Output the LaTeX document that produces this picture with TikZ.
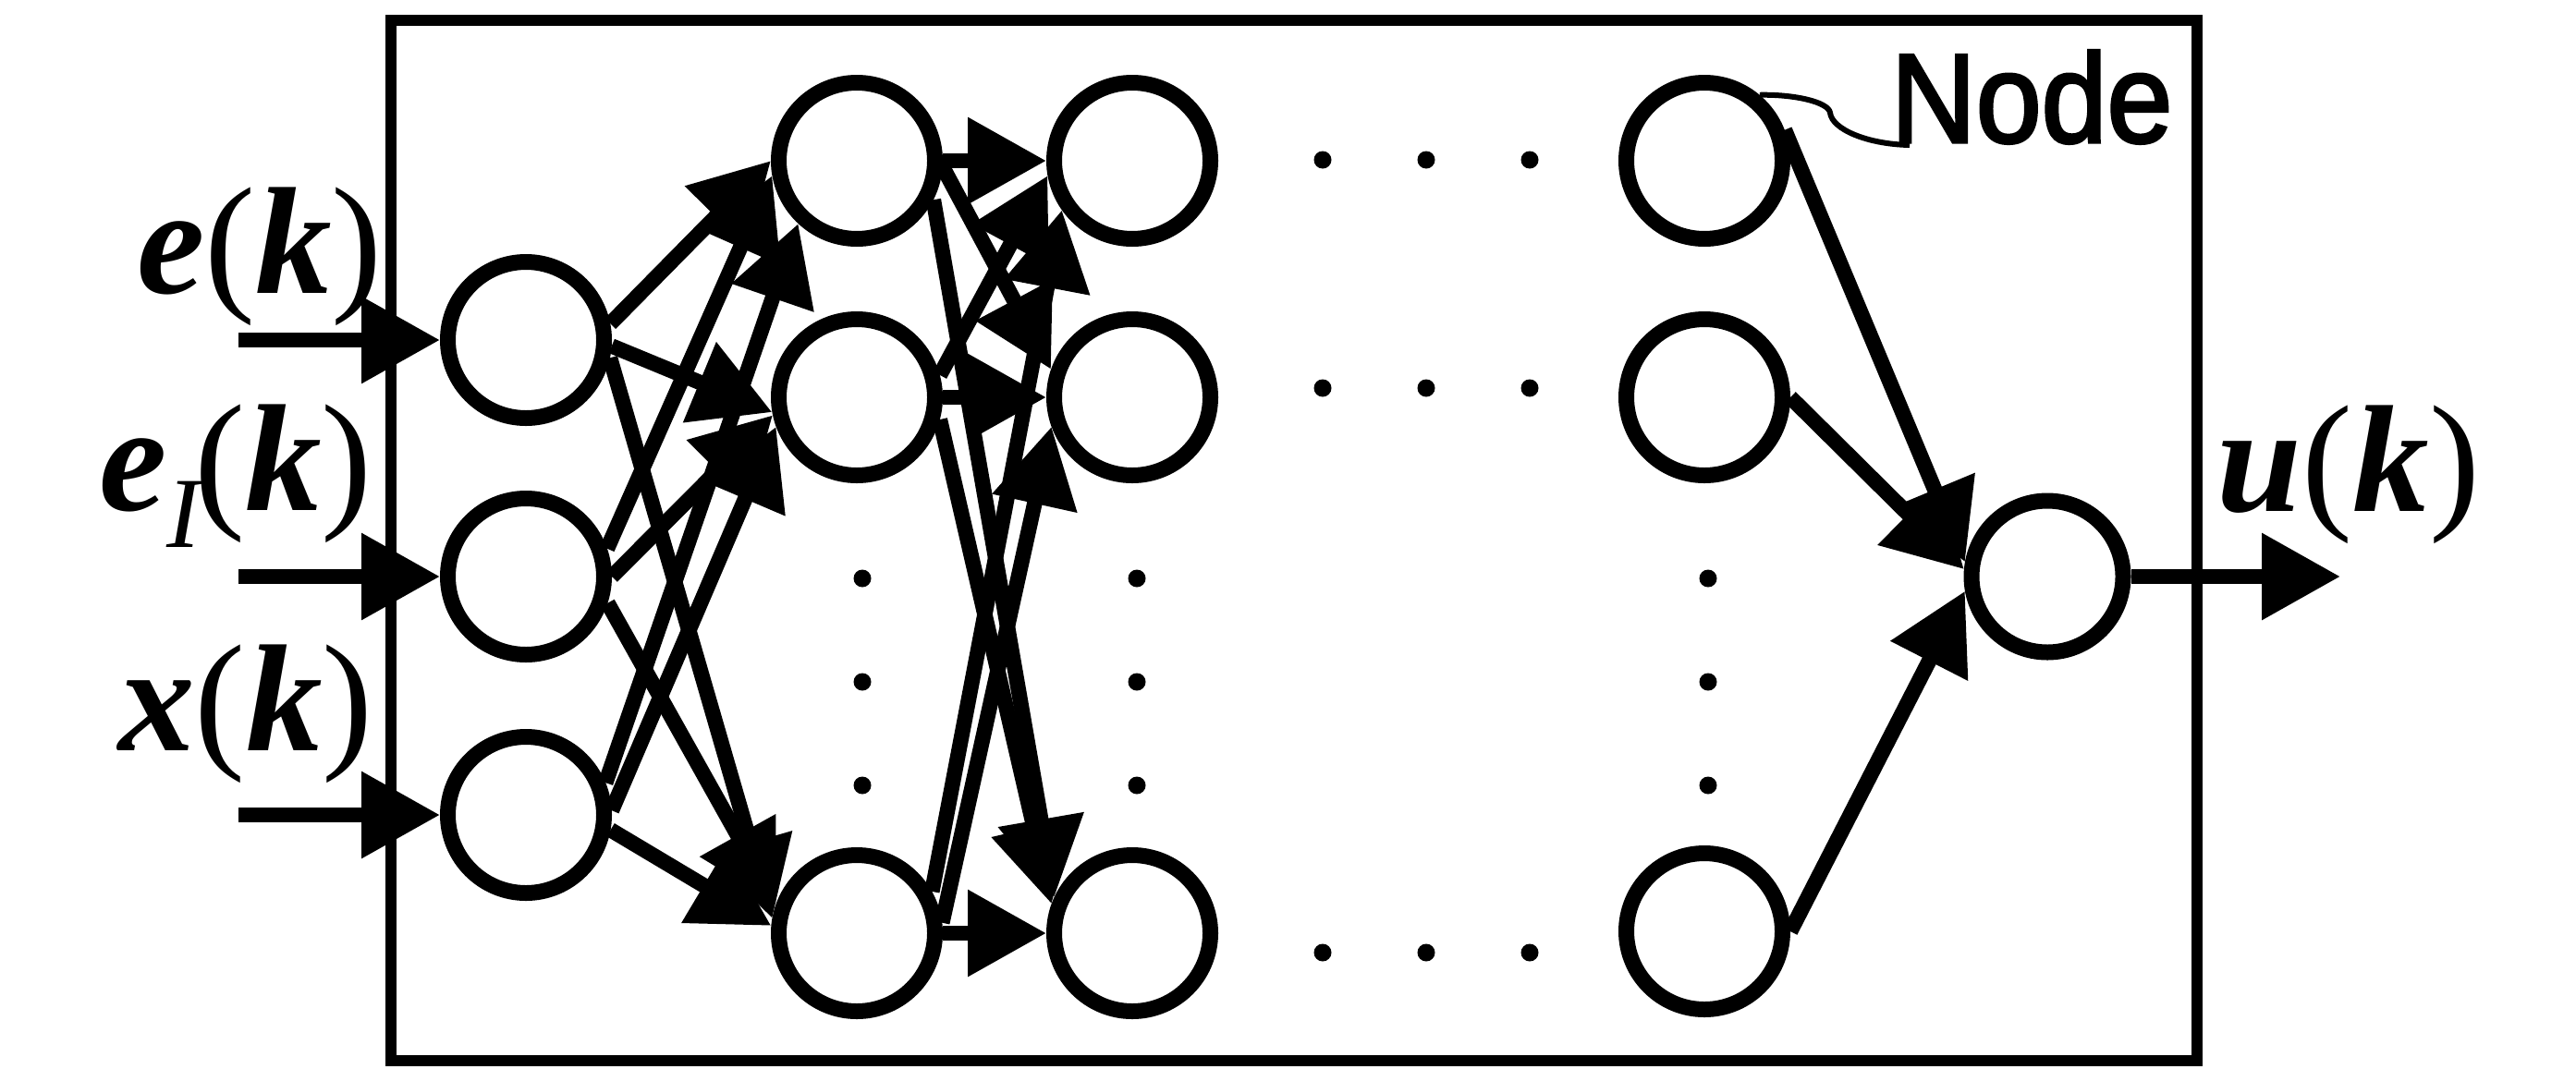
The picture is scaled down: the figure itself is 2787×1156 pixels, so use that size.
\documentclass[tikz,border=0pt]{standalone}
\usepackage{fontspec}
\setmainfont{Liberation Serif}
\newfontfamily\nodefont[FakeBold=2.5]{Liberation Sans}
\usetikzlibrary{arrows.meta}
\newcommand\bimath[1]{{\bfseries\itshape #1}}
\begin{document}
\begin{tikzpicture}[x=0.1mm,y=-0.1mm,
  neuron/.style={circle,draw,line width=1.7mm,minimum size=16.9mm,inner sep=0pt},
  conn/.style={line width=1.65mm,-{Triangle[length=8.5mm,width=9mm]}},
  vdot/.style={fill=black},
  frame/.style={line width=1.2mm},
  sig/.style={font=\fontsize{47}{47}\selectfont,inner sep=0pt},
  brace/.style={line width=0.6mm}]
\useasboundingbox (0,0) rectangle (2787,1156);
\draw[frame] (423,22) rectangle (2377,1148);
% nodes
\node[neuron] (i1) at (569,368) {};
\node[neuron] (i2) at (569,624) {};
\node[neuron] (i3) at (569,882) {};
\node[neuron] (a1) at (927,174) {};
\node[neuron] (a2) at (927,430) {};
\node[neuron] (a3) at (927,1010) {};
\node[neuron] (b1) at (1225,174) {};
\node[neuron] (b2) at (1225,430) {};
\node[neuron] (b3) at (1225,1010) {};
\node[neuron] (c1) at (1844,174) {};
\node[neuron] (c2) at (1844,430) {};
\node[neuron] (c3) at (1844,1008) {};
\node[neuron,minimum size=16.4mm] (o) at (2215,624) {};
% dots
\foreach \x in {933,1230,1848}{
  \foreach \y in {626,738,850}{
    \fill[vdot] (\x,\y) circle[radius=0.95mm];
  }
}
\foreach \x in {1431,1543,1655}{
  \foreach \y in {173,420,1031}{
    \fill[vdot] (\x,\y) circle[radius=0.95mm];
  }
}
% inputs
\coordinate (s1) at (258,368);
\coordinate (s2) at (258,624);
\coordinate (s3) at (258,882);
\coordinate (se) at (2532,624);
\draw[conn] (s1) -- (i1.west);
\draw[conn] (s2) -- (i2.west);
\draw[conn] (s3) -- (i3.west);
\draw[conn] (o.east) -- (se);
% input -> hidden 1
\draw[conn] (i1.11) -- (a1.180);
\draw[conn] (i1.-4) -- (a2.190);
\draw[conn] (i1.-12) -- (a3.170);
\draw[conn] (i2.19) -- (a1.190);
\draw[conn] (i2.east) -- (a2.192);
\draw[conn] (i2.-18) -- (a3.160);
\draw[conn] (i3.22) -- (a1.227);
\draw[conn] (i3.3) -- (a2.200);
\draw[conn] (i3.-10) -- (a3.175);
% hidden 1 -> hidden 2
\draw[conn] (a1.east) -- (b1.west);
\draw[conn] (a1.-4) -- (b2.161);
\draw[conn] (a1.-27) -- (b3.155);
\draw[conn] (a2.15) -- (b1.190);
\draw[conn] (a2.east) -- (b2.west);
\draw[conn] (a2.-15) -- (b3.160);
\draw[conn] (a3.29) -- (b1.215);
\draw[conn] (a3.7) -- (b2.200);
\draw[conn] (a3.east) -- (b3.west);
% last -> output
\draw[conn] (c1.21) -- (o.170);
\draw[conn] (c2.east) -- (o.175);
\draw[conn] (c3.east) -- (o.190);
% labels
\node[sig] (le) at (281,278) {\bimath{e}(\bimath{k})};
\node[sig] (lei) at (255,515) {\bimath{e}\raisebox{-0.24em}{\fontsize{31}{31}\selectfont\itshape I}\kern-0.04em(\bimath{k})};
\node[sig] (lx) at (266,773) {\bimath{x}(\bimath{k})};
\node[sig] (lu) at (2541,514) {\bimath{u}(\bimath{k})};
\node[anchor=base west,inner sep=0pt,font=\nodefont\fontsize{39}{39}\selectfont] (lnode) at (2045,154) {\scalebox{0.93}[1]{Node}};
\coordinate (bend) at (2066,157);
\draw[brace] (c1.50) .. controls (1940,102) and (1978,110) .. (1980,122) .. controls (1982,140) and (2020,156) .. (bend);
\end{tikzpicture}
\end{document}
